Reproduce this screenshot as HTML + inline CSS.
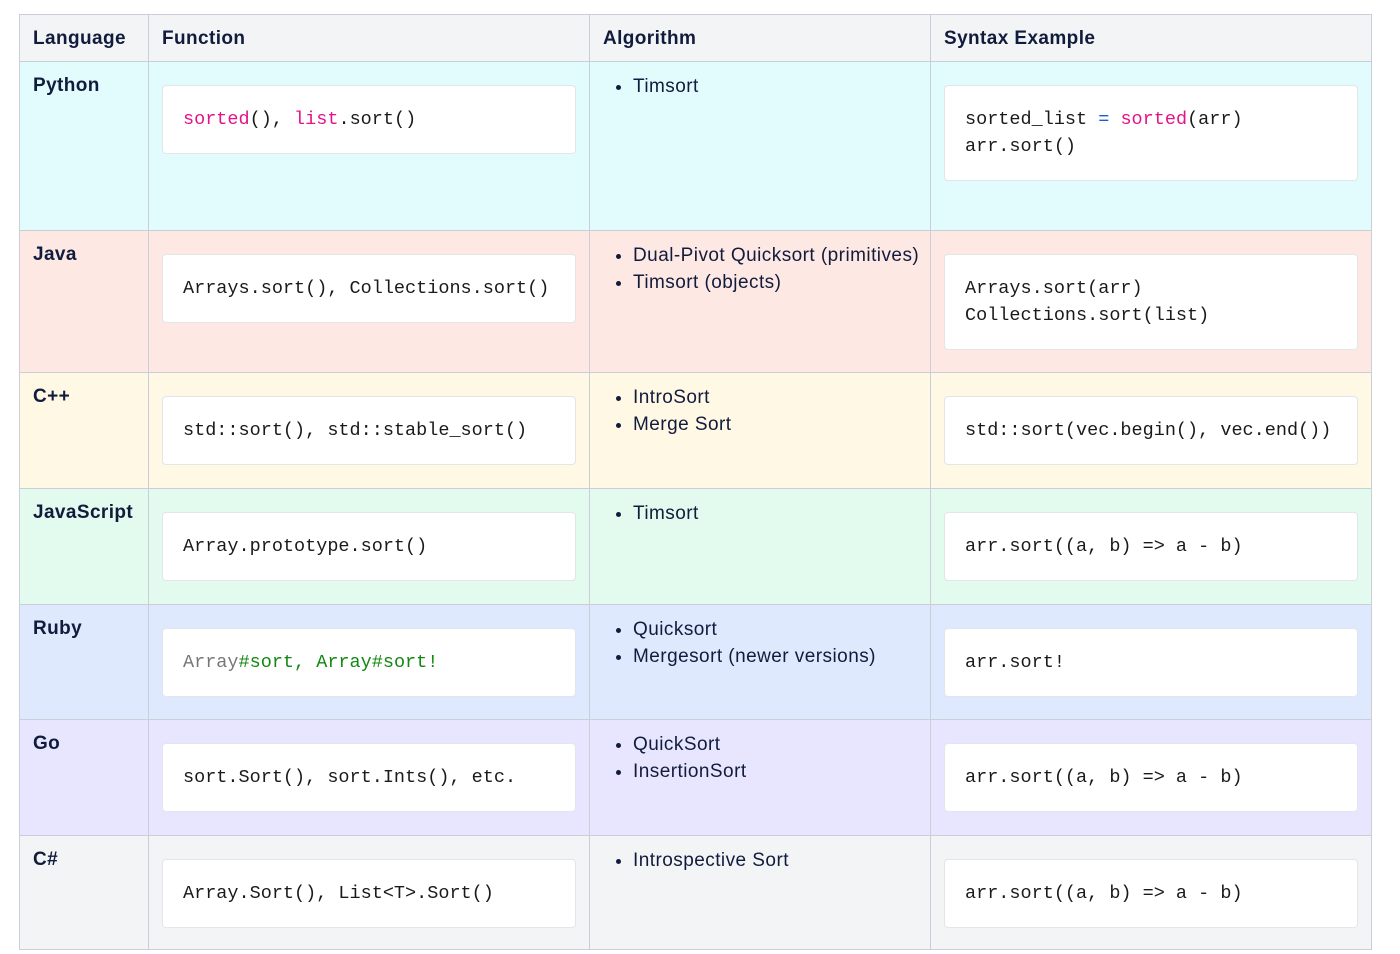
<!DOCTYPE html>
<html><head><meta charset="utf-8"><style>
body{margin:0;width:1400px;height:954px;background:#fff;font-family:"Liberation Sans",sans-serif;color:#111c3d;position:relative;overflow:hidden}
.row{position:absolute;left:19px;width:1352px;border-top:1px solid #c9ced8}
.cell{position:absolute;top:0;bottom:0;border-left:1px solid #c9ced8}
.lang{position:absolute;left:14px;top:13px;font-weight:bold;font-size:19px;letter-spacing:0.4px}
.hd{position:absolute;top:13px;font-weight:bold;font-size:19px;letter-spacing:0.4px}
.code{position:absolute;background:#fff;border:1px solid #e2e5ea;border-radius:4px;font-family:"Liberation Mono",monospace;font-size:18.5px;line-height:27px;box-sizing:border-box;padding:20px 20px;white-space:pre;color:#1a1a1a}
ul{position:absolute;left:600px;top:11px;margin:0;padding-left:14px;font-size:19px;line-height:27px;letter-spacing:0.45px}
.pk{color:#e5138a}.gr{color:#777}.gn{color:#118811}
</style></head><body>
<div id="t"></div>
<div style="position:absolute;left:19px;top:14px;width:1351px;height:934px;border:1px solid #c9ced8;z-index:5"></div>
<script>
const rows=[
 {y:14,h:47,bg:'#f3f4f6',hdr:true},
 {y:61,h:169,bg:'#e2fcfe',lang:'Python',fn:'<span class="pk">sorted</span>(), <span class="pk">list</span>.sort()',alg:['Timsort'],syn:'sorted_list <span style="color:#1a5fd0">=</span> <span class="pk">sorted</span>(arr)\narr.sort()',sh:96},
 {y:230,h:142,bg:'#fee8e4',lang:'Java',fn:'Arrays.sort(), Collections.sort()',alg:['Dual-Pivot Quicksort (primitives)','Timsort (objects)'],syn:'Arrays.sort(arr)\nCollections.sort(list)',sh:96},
 {y:372,h:116,bg:'#fef8e5',lang:'C++',fn:'std::sort(), std::stable_sort()',alg:['IntroSort','Merge Sort'],syn:'std::sort(vec.begin(), vec.end())',sh:69},
 {y:488,h:116,bg:'#e3fbee',lang:'JavaScript',fn:'Array.prototype.sort()',alg:['Timsort'],syn:'arr.sort((a, b) => a - b)',sh:69},
 {y:604,h:115,bg:'#dee9fe',lang:'Ruby',fn:'<span class="gr">Array</span><span class="gn">#sort, Array#sort!</span>',alg:['Quicksort','Mergesort (newer versions)'],syn:'arr.sort!',sh:69},
 {y:719,h:116,bg:'#e8e6fe',lang:'Go',fn:'sort.Sort(), sort.Ints(), etc.',alg:['QuickSort','InsertionSort'],syn:'arr.sort((a, b) => a - b)',sh:69},
 {y:835,h:114,bg:'#f3f4f6',lang:'C#',fn:'Array.Sort(), List&lt;T&gt;.Sort()',alg:['Introspective Sort'],syn:'arr.sort((a, b) => a - b)',sh:69}
];
const t=document.getElementById('t');
rows.forEach((r,i)=>{
 const d=document.createElement('div');d.className='row';
 
 
 d.style.top=r.y+'px';d.style.height=r.h+'px';d.style.background=r.bg;
 let h='';
 [129,570,911].forEach(x=>h+=`<div class="cell" style="left:${x}px"></div>`);
 if(r.hdr){
  h+=`<div class="hd" style="left:14px">Language</div><div class="hd" style="left:143px">Function</div><div class="hd" style="left:584px">Algorithm</div><div class="hd" style="left:925px">Syntax Example</div>`;
 } else {
  h+=`<div class="lang">${r.lang}</div>`;
  h+=`<div class="code" style="left:143px;top:23px;width:414px;height:69px">${r.fn}</div>`;
  h+=`<ul>${r.alg.map(a=>`<li>${a}</li>`).join('')}</ul>`;
  h+=`<div class="code" style="left:925px;top:23px;width:414px;height:${r.sh}px">${r.syn}</div>`;
 }
 d.innerHTML=h;t.appendChild(d);
});
</script>
</body></html>
